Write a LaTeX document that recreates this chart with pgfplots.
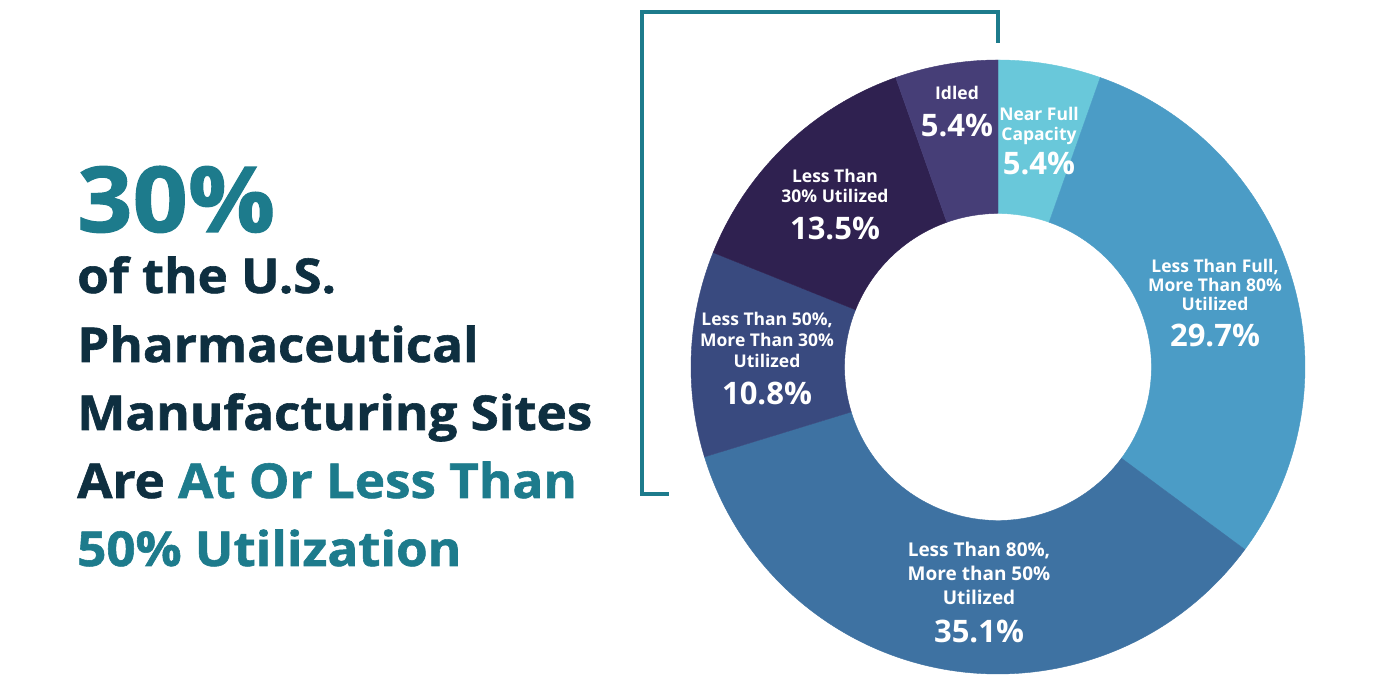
\documentclass[border=0pt]{standalone}
\usepackage{fontspec}
\setmainfont{Open Sans}
\newfontfamily\headfont{Open Sans}[FakeStretch=1.065, FakeBold=1.2]
\usepackage{pgfplots}
\usepackage{pgfplotstable}
\pgfplotsset{compat=1.18}

\definecolor{brandteal}{HTML}{1D7B8C}
\definecolor{brandnavy}{HTML}{0E2F40}
\definecolor{seg0}{HTML}{69C8DA}% near full capacity
\definecolor{seg1}{HTML}{4B9CC6}% less than full, more than 80%
\definecolor{seg2}{HTML}{3E72A2}% less than 80%, more than 50%
\definecolor{seg3}{HTML}{394A7F}% less than 50%, more than 30%
\definecolor{seg4}{HTML}{2F2150}% less than 30%
\definecolor{seg5}{HTML}{463E77}% idled

% share of sites, clockwise from 12 o'clock
\pgfplotstableread{
share
5.4
29.7
35.1
10.8
13.5
5.4
}\sitesdata

\newcommand\lbl{\bfseries\fontsize{17.5}{20}\selectfont}
\newcommand\lblb{\bfseries\fontsize{19}{22}\selectfont}
\newcommand\pct{\bfseries\fontsize{31}{34}\selectfont}
\newcommand\head{\headfont\bfseries\fontsize{48}{56}\selectfont}
\newcommand\hero{\headfont\bfseries\fontsize{91}{96}\selectfont}

\begin{document}
\begin{tikzpicture}
\useasboundingbox (0,0) rectangle (1400pt,700pt);
\fill[white] (0,0) rectangle (1400pt,700pt);

% start and end angle of every slice
\pgfmathsetmacro\total{0}
\pgfplotsforeachungrouped \i in {0,...,5}{%
  \pgfplotstablegetelem{\i}{share}\of\sitesdata
  \pgfmathsetmacro\total{\total+\pgfplotsretval}%
}
\def\cum{0}
\pgfplotsforeachungrouped \i in {0,...,5}{%
  \pgfplotstablegetelem{\i}{share}\of\sitesdata
  \pgfmathsetmacro\sa{90-(\cum/\total)*360}%
  \pgfmathsetmacro\cum{\cum+\pgfplotsretval}%
  \pgfmathsetmacro\ea{90-(\cum/\total)*360}%
  \expandafter\xdef\csname sa\i\endcsname{\sa}%
  \expandafter\xdef\csname ea\i\endcsname{\ea}%
}

\begin{axis}[at={(998pt,333pt)}, anchor=center, hide axis, scale only axis,
  width=614pt, height=614pt, xmin=-1, xmax=1, ymin=-1, ymax=1, clip=false]
\pgfplotsinvokeforeach{0,...,5}{
  \fill[seg#1, draw=seg#1, line width=0.4pt]
    (axis cs:{cos(\csname sa#1\endcsname)},{sin(\csname sa#1\endcsname)})
    arc[start angle=\csname sa#1\endcsname, end angle=\csname ea#1\endcsname, radius=307pt]
    -- (axis cs:{0.5*cos(\csname ea#1\endcsname)},{0.5*sin(\csname ea#1\endcsname)})
    arc[start angle=\csname ea#1\endcsname, end angle=\csname sa#1\endcsname, radius=153.5pt]
    -- cycle;
}
\end{axis}

\begin{scope}[x=1pt, y=-1pt, yshift=700pt]
  % bracket
  \draw[brandteal, line width=4.5pt] (998,43) -- (998,12) -- (642,12) -- (642,494) -- (669,494);

  % headline
  \node[anchor=base west, inner sep=0, text=brandteal, font=\hero] at (77,232) {30\%};
  \node[anchor=base west, inner sep=0, text=brandnavy, font=\head] at (77,293) {of the U.S.};
  \node[anchor=base west, inner sep=0, text=brandnavy, font=\head] at (77,362) {Pharmaceutical};
  \node[anchor=base west, inner sep=0, text=brandnavy, font=\head] at (77,430) {Manufacturing Sites};
  \node[anchor=base west, inner sep=0, text=brandnavy, font=\head] at (77,498) {Are \textcolor{brandteal}{At Or Less Than}};
  \node[anchor=base west, inner sep=0, text=brandteal, font=\head] at (77,566) {50\% Utilization};

  % slice labels
  \begin{scope}[every node/.style={anchor=base, inner sep=0, text=white}]
  \node[font=\lbl] at (957,100) {Idled};
  \node[font=\pct] at (957,137) {5.4\%};

  \node[font=\lbl] at (1039,121) {Near Full};
  \node[font=\lbl] at (1039,141) {Capacity};
  \node[font=\pct] at (1039,175) {5.4\%};

  \node[font=\lbl] at (835,183) {Less Than};
  \node[font=\lbl] at (835,203) {30\% Utilized};
  \node[font=\pct] at (835,240) {13.5\%};

  \node[font=\lbl] at (1215,273) {Less Than Full,};
  \node[font=\lbl] at (1215,292) {More Than 80\%};
  \node[font=\lbl] at (1215,311) {Utilized};
  \node[font=\pct] at (1215,347) {29.7\%};

  \node[font=\lbl] at (767,326) {Less Than 50\%,};
  \node[font=\lbl] at (767,347) {More Than 30\%};
  \node[font=\lbl] at (767,368) {Utilized};
  \node[font=\pct] at (767,405) {10.8\%};

  \node[font=\lblb] at (979,557) {Less Than 80\%,};
  \node[font=\lblb] at (979,581) {More than 50\%};
  \node[font=\lblb] at (979,605) {Utilized};
  \node[font=\pct] at (979,643) {35.1\%};
  \end{scope}
\end{scope}
\end{tikzpicture}
\end{document}
